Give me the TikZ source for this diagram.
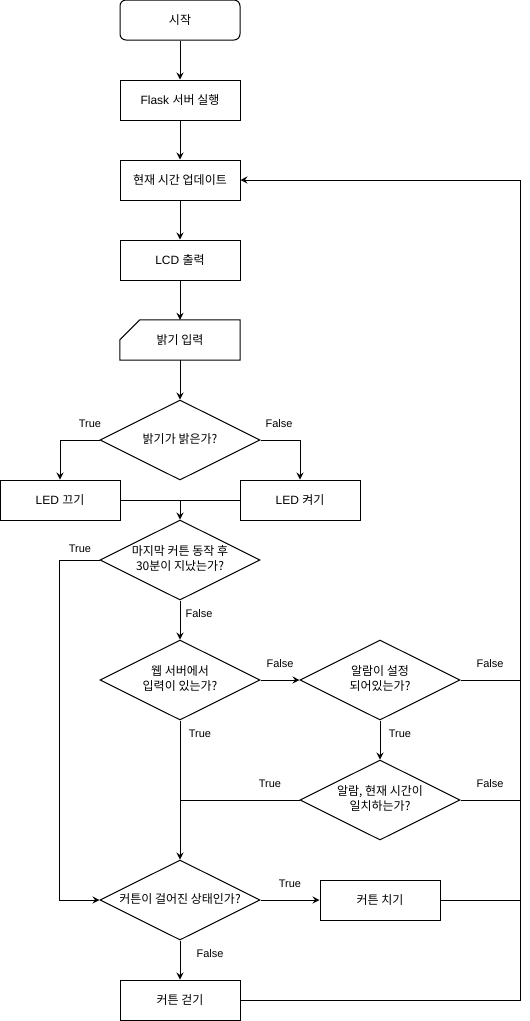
\documentclass[tikz,border=0pt]{standalone}
\usepackage{fontspec}
\setmainfont{Liberation Sans}
\newfontfamily\kr{Noto Sans CJK KR}
\usetikzlibrary{shapes.geometric,arrows.meta}
\newcommand{\zt}[1]{\makebox[0pt]{\begin{tabular}{@{}c@{}}#1\end{tabular}}}
\begin{document}
\begin{tikzpicture}[x=1pt,y=-1pt,
  every node/.style={font=\fontsize{12}{15}\selectfont},
  box/.style={draw,line width=1pt,minimum width=120pt,minimum height=40pt,inner sep=0pt},
  rbox/.style={box,rounded corners=6pt},
  dec/.style={draw,line width=1pt,diamond,aspect=2,minimum width=160pt,minimum height=80pt,inner sep=0pt},
  plain/.style={minimum width=120pt,minimum height=40pt,inner sep=0pt},
  lbl/.style={font=\fontsize{11}{13}\selectfont,inner sep=0pt},
  ln/.style={line width=1pt},
  arr/.style={line width=1pt,-{Stealth[length=7pt,width=7pt,inset=2.5pt]}}]
\useasboundingbox (0,0) rectangle (530,1021);
\node[rbox] (start) at (180,20) {\kr 시작};
\node[box] (flask) at (180,100) {Flask {\kr 서버 실행}};
\node[box] (now) at (180,180) {\kr 현재 시간 업데이트};
\node[box] (lcd) at (180,260) {LCD {\kr 출력}};
\node[plain] (inp) at (180,340) {\kr 밝기 입력};
\draw[ln] (inp.south west) -- (inp.south east) -- (inp.north east) -- ([xshift=20pt]inp.north west) -- ([yshift=-20pt]inp.north west) -- cycle;
\node[dec] (d1) at (180,440) {\zt{\kr 밝기가 밝은가?}};
\node[box] (ledoff) at (60,500) {LED {\kr 끄기}};
\node[box] (ledon) at (300,500) {LED {\kr 켜기}};
\node[dec] (d2) at (180,560) {\zt{\kr 마지막 커튼 동작 후\\\kr 30분이 지났는가?}};
\node[dec] (d3) at (180,680) {\zt{\kr 웹 서버에서\\\kr 입력이 있는가?}};
\node[dec] (d4) at (380,680) {\zt{\kr 알람이 설정\\\kr 되어있는가?}};
\node[dec] (d5) at (380,800) {\zt{\kr 알람, 현재 시간이\\\kr 일치하는가?}};
\node[dec] (d6) at (180,900) {\zt{\kr 커튼이 걸어진 상태인가?}};
\node[box] (close) at (380,900) {\kr 커튼 치기};
\node[box] (open) at (180,1000) {\kr 커튼 걷기};
\coordinate (rail) at (520,180);
% labels
\node[lbl] (l1) at (90,424) {True};
\node[lbl] (l2) at (279,424) {False};
\node[lbl] (l3) at (80,549) {True};
\node[lbl] (l4) at (199,614) {False};
\node[lbl] (l5) at (280,664) {False};
\node[lbl] (l6) at (200,734) {True};
\node[lbl] (l7) at (490,664) {False};
\node[lbl] (l8) at (400,734) {True};
\node[lbl] (l9) at (270,784) {True};
\node[lbl] (l10) at (490,784) {False};
\node[lbl] (l11) at (290,884) {True};
\node[lbl] (l12) at (210,954) {False};
% connectors
\draw[arr] (start) -- (flask);
\draw[arr] (flask) -- (now);
\draw[arr] (now) -- (lcd);
\draw[arr] (lcd) -- (inp);
\draw[arr] (inp) -- (d1);
\draw[arr] (d1.west) -| (ledoff.north);
\draw[arr] (d1.east) -| (ledon.north);
\draw[ln] (ledoff.east) -- (ledon.west);
\draw[arr] (ledoff.east -| d2.north) -- (d2.north);
\draw[arr] (d2.west) -- ++(-40,0) |- (d6.west);
\draw[arr] (d2) -- (d3);
\draw[arr] (d3) -- (d4);
\draw[arr] (d3) -- (d6);
\draw[arr] (d4) -- (d5);
\draw[ln] (d5.west) -- (d5.west -| d3.south);
\draw[arr] (d6) -- (close);
\draw[arr] (d6) -- (open);
\draw[ln] (d4.east) -- (d4.east -| rail);
\draw[ln] (d5.east) -- (d5.east -| rail);
\draw[ln] (close.east) -- (close.east -| rail);
\draw[arr] (open.east) -- (open.east -| rail) -- (rail) -- (now.east);
\end{tikzpicture}
\end{document}
